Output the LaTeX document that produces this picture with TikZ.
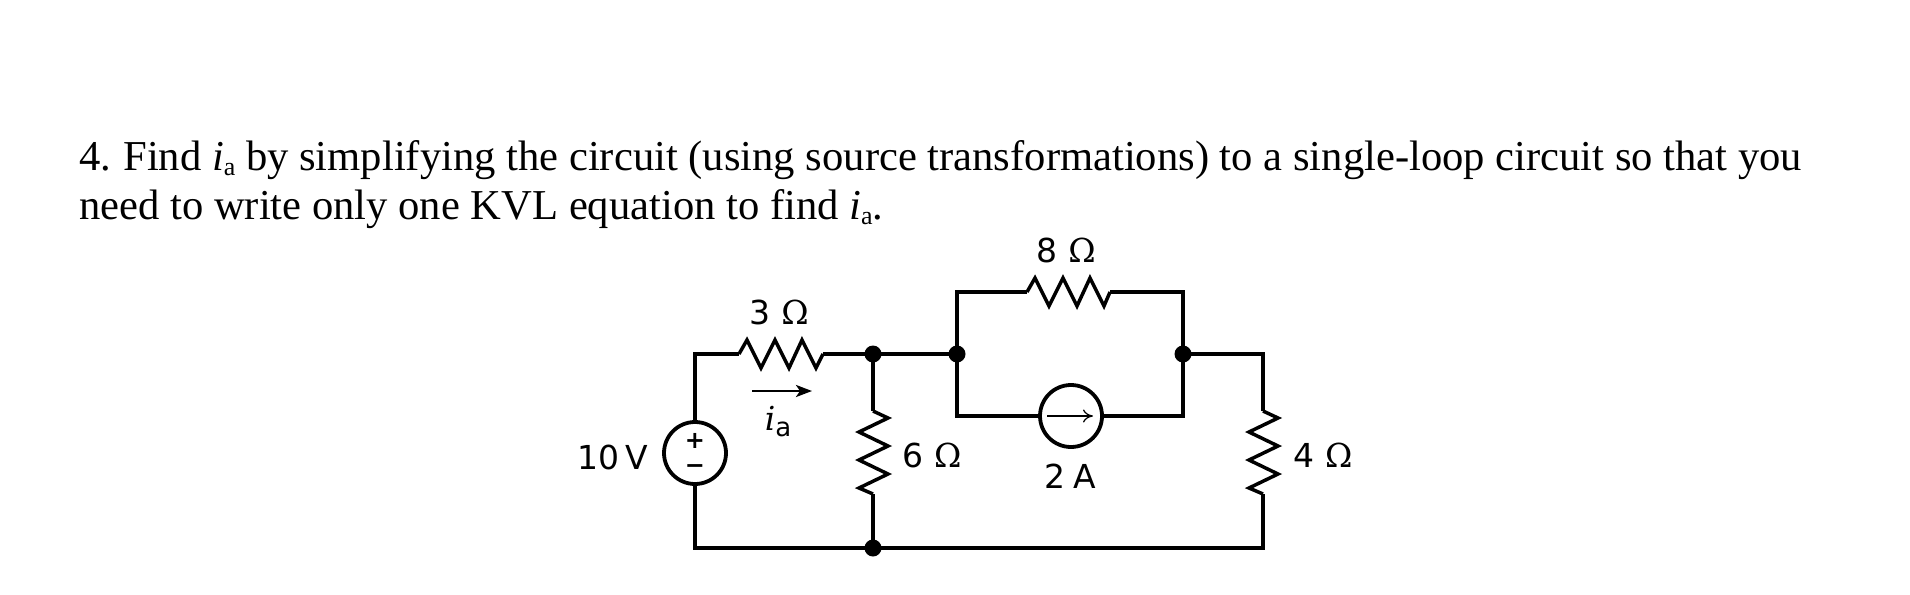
\RequirePackage{fix-cm}
\documentclass[tikz,border=0pt]{standalone}
\usepackage{fontspec}
\setmainfont{Liberation Serif}
\newfontfamily\ckt{DejaVu Sans}
\newfontfamily\cktom{DejaVu Serif}
\usetikzlibrary{arrows.meta}
% text helpers
\newcommand{\probia}{\textit{i}{\fontsize{26}{26}\selectfont\raisebox{-5pt}{a}}}
\newcommand{\ohm}{\kern11pt{\cktom\char"03A9}}
% zigzag resistors, 3 teeth
\newcommand{\zigH}[2]{\draw[res] (#1) -- ++(8,-14) -- ++(14,28) -- ++(14,-28) -- ++(14,28) -- ++(13,-28) -- ++(14,28) -- (#2);}
\newcommand{\zigV}[2]{\draw[res] (#1) -- ++(15,7) -- ++(-29,14) -- ++(29,14) -- ++(-29,14) -- ++(29,14) -- ++(-29,14) -- (#2);}
\begin{document}
\begin{tikzpicture}[x=1pt,y=-1pt,
	wire/.style={line width=3.9pt,line join=miter},
	res/.style={line width=3.5pt,line join=miter},
	src/.style={draw,circle,line width=3.8pt,minimum size=62pt,inner sep=0pt},
	dot/.style={fill,circle,minimum size=17pt,inner sep=0pt,outer sep=-2pt},
	sign/.style={inner sep=0pt,font=\fontsize{24}{24}\selectfont\ckt\bfseries},
	lbl/.style={inner sep=0pt,font=\fontsize{33}{33}\selectfont\ckt},
	prob/.style={inner sep=0pt,anchor=base west,font=\fontsize{42.6}{42.6}\selectfont}]
	\path[use as bounding box,fill=white] (0,0) rectangle (1910,594);

	% problem text
	\node[prob] (line1) at (79,170) {4.\kern-2pt{} Find \probia{} by simplifying the circuit (using source transformations) to a single-loop circuit so that you};
	\node[prob] (line2) at (79,219) {need to write only one KVL equation to find \probia.};

	% junctions
	\node[dot] (n1) at (873,354) {};
	\node[dot] (n2) at (957,354) {};
	\node[dot] (n3) at (1183,354) {};
	\node[dot] (n4) at (873,548) {};

	% sources
	\node[src] (vs) at (695,453) {};
	\node[src] (is) at (1071,416) {};
	\node[sign] (vp) at (695,441) {+};
	\node[sign] (vm) at (695,469) {\char"2212};

	% corners and resistor ends
	\coordinate (r3a) at (739,354);
	\coordinate (r3b) at (823,354);
	\coordinate (r8a) at (1027,292);
	\coordinate (r8b) at (1110,292);
	\coordinate (r6a) at (873,411);
	\coordinate (r6b) at (873,494);
	\coordinate (r4a) at (1263,411);
	\coordinate (r4b) at (1263,494);
	\coordinate (iar) at (752,391);
	\coordinate (iah) at (812,391);
	\coordinate (isr) at (1047,416);
	\coordinate (ish) at (1093,416);

	% resistors
	\zigH{r3a}{r3b}
	\zigH{r8a}{r8b}
	\zigV{r6a}{r6b}
	\zigV{r4a}{r4b}

	% wires
	\draw[wire] (vs.north) |- (r3a);
	\draw[wire] (r3b) -- (n1);
	\draw[wire] (n1) -- (n2);
	\draw[wire] (n1) -- (r6a);
	\draw[wire] (r6b) -- (n4);
	\draw[wire] (vs.south) |- (n4);
	\draw[wire] (n4) -| (r4b);
	\draw[wire] (r4a) |- (n3);
	\draw[wire] (n2) |- (r8a);
	\draw[wire] (r8b) -| (n3);
	\draw[wire] (n2) |- (is.west);
	\draw[wire] (is.east) -| (n3);

	% arrows
	\draw[line width=2.6pt,-{Stealth[length=16pt,width=12pt,inset=4pt]}] (iar) -- (iah);
	\draw[line width=1.2pt,-{To[length=10pt,width=13pt]}] (isr) -- (ish);

	% circuit labels
	\node[lbl,anchor=base] (l3) at (779,324) {3\ohm};
	\node[lbl,anchor=base] (l8) at (1066,262) {8\ohm};
	\node[lbl,anchor=base east] (l10) at (648,469) {10\kern6pt V};
	\node[lbl,anchor=base west] (l6) at (902,467) {6\ohm};
	\node[lbl,anchor=base west] (l4) at (1293,467) {4\ohm};
	\node[lbl,anchor=base] (l2) at (1070,488) {2\kern8pt A};
	\node[lbl,anchor=base] (lia) at (778,430) {{\cktom\itshape i}\raisebox{-6pt}{\fontsize{26}{26}\selectfont a}};
\end{tikzpicture}
\end{document}
